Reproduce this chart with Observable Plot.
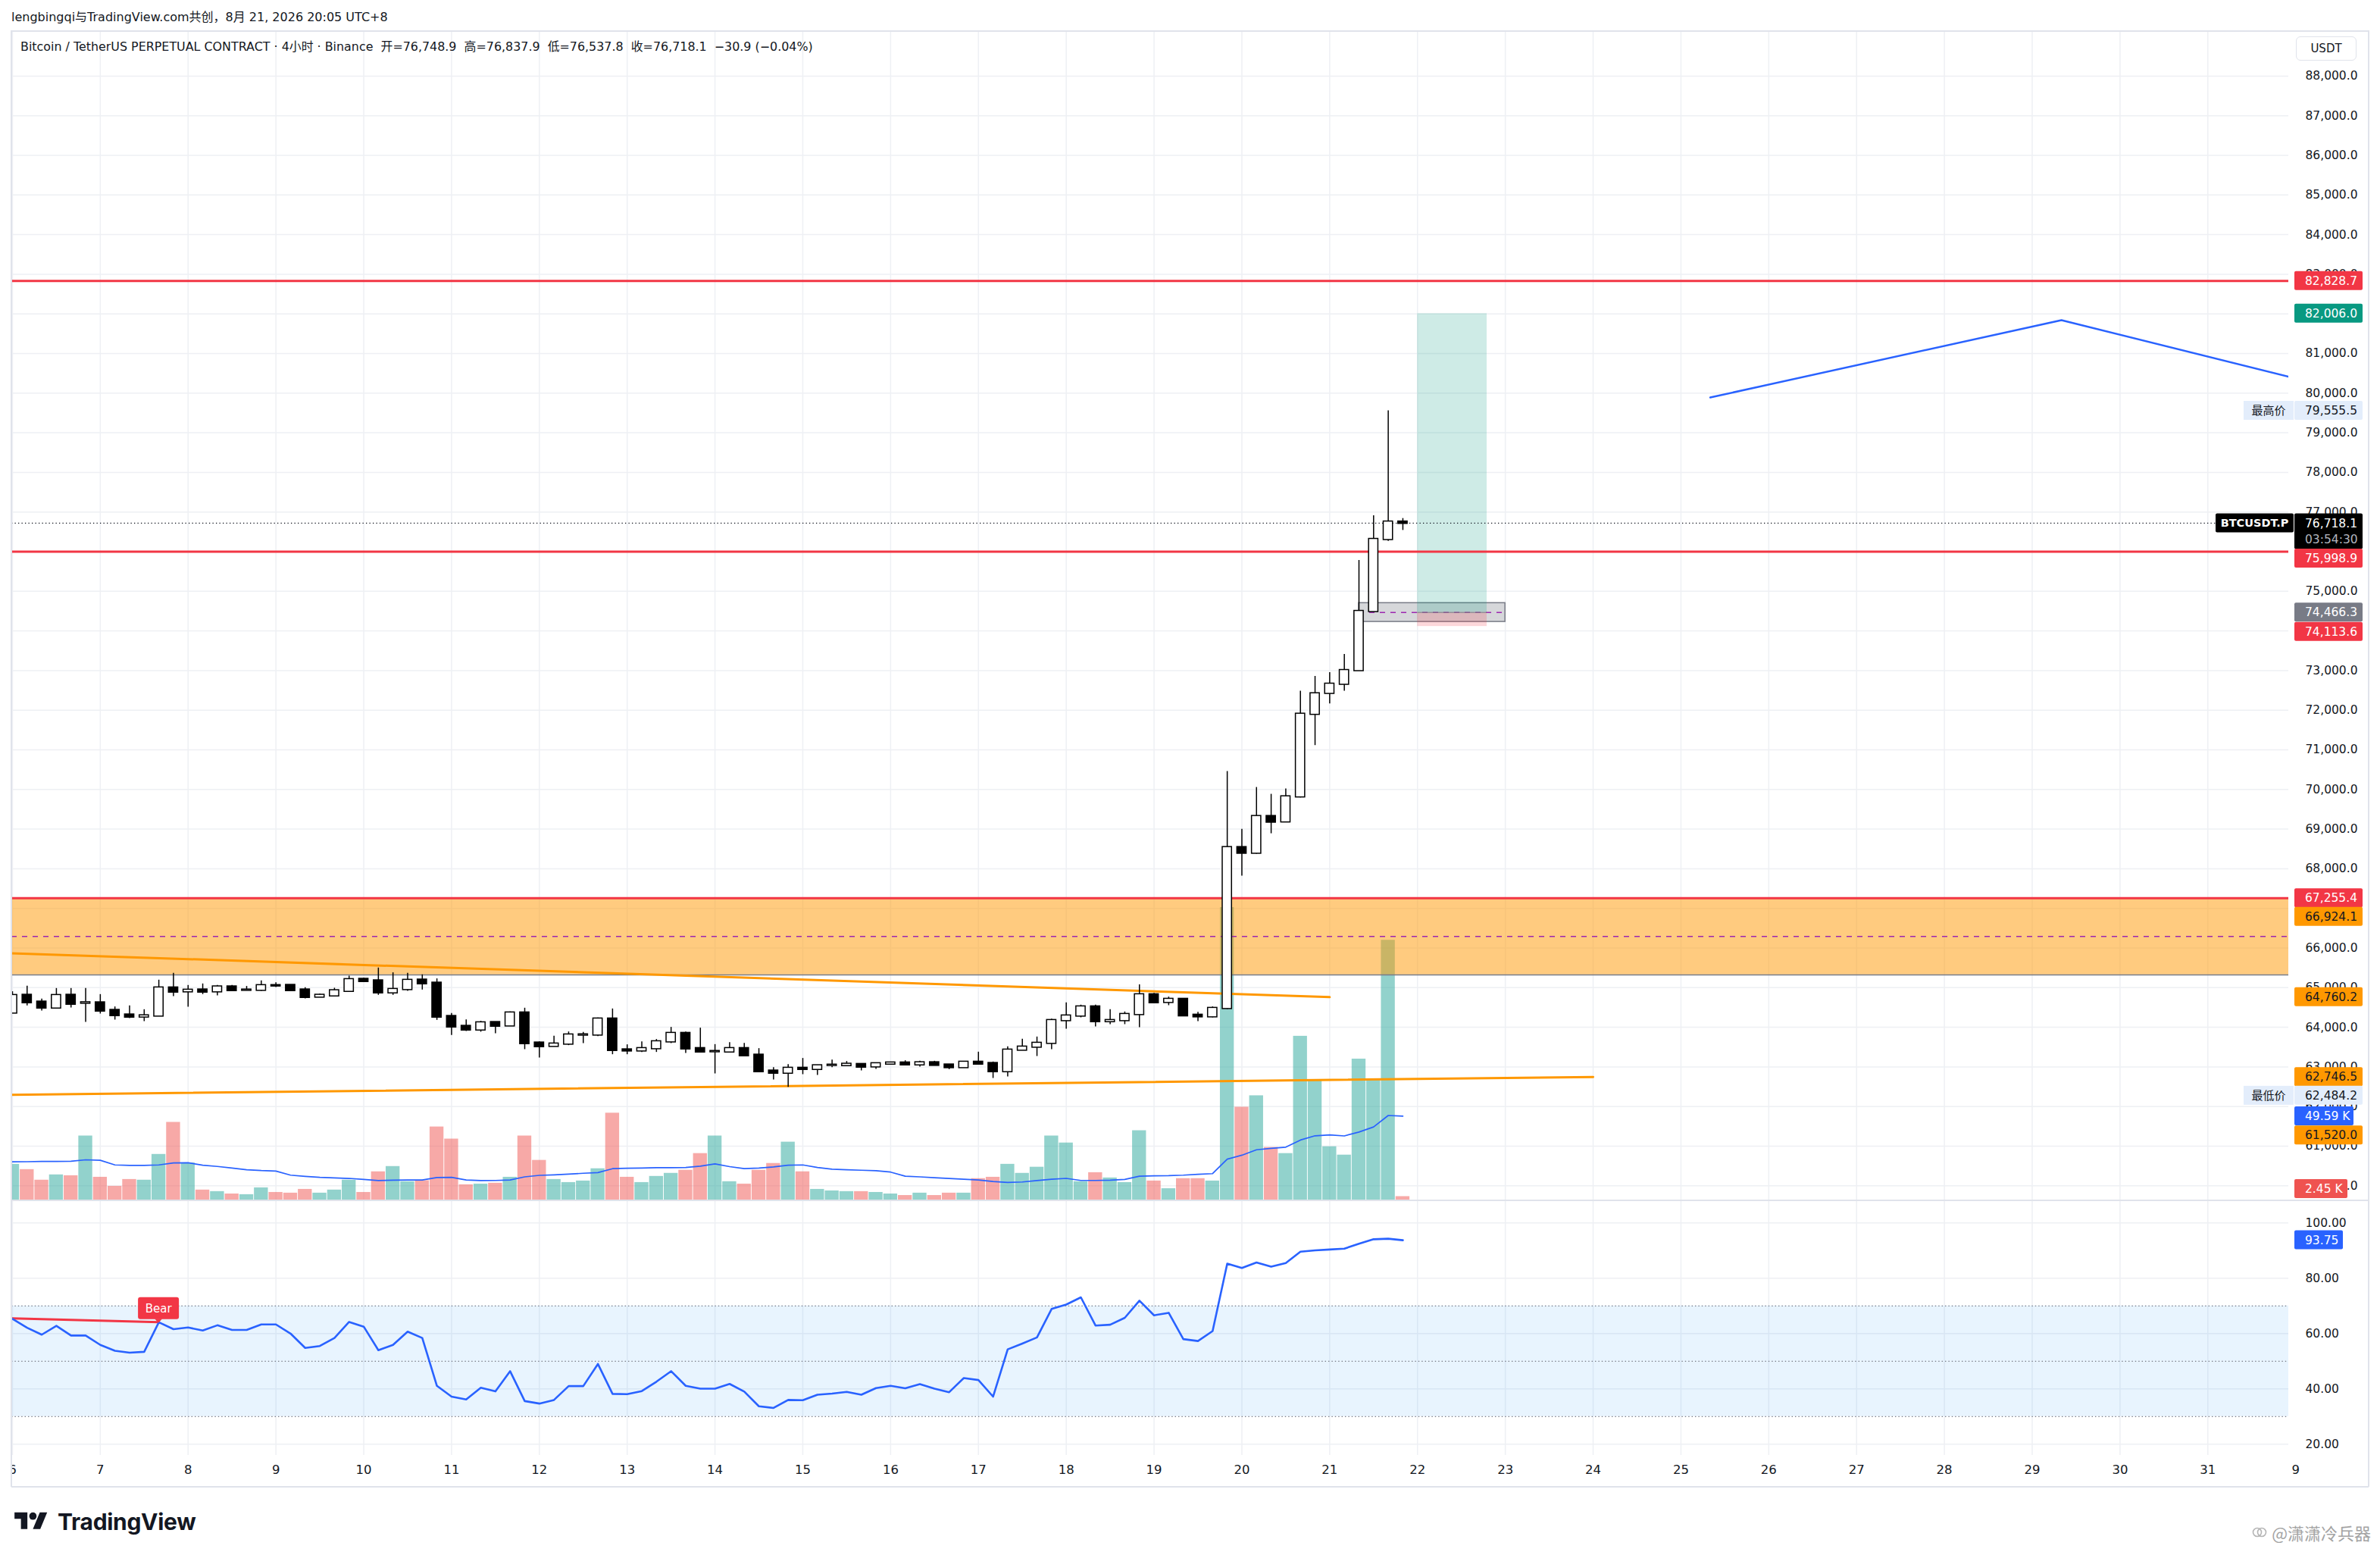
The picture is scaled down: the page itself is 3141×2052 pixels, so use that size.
<!DOCTYPE html>
<html><head><meta charset="utf-8">
<script src="https://cdn.jsdelivr.net/npm/d3@7"></script>
<script src="https://cdn.jsdelivr.net/npm/@observablehq/plot@0.6"></script>
<style>
html,body{margin:0;padding:0;background:#fff;}
#root{position:relative;width:3141px;height:2052px;overflow:hidden;background:#fff;font-family:"DejaVu Sans","Noto Sans CJK SC",sans-serif;color:#131722;}
.abs{position:absolute;}
.line{position:absolute;background:#e0e3eb;}
</style></head><body><div id="root"></div>
<script>
// ---------- DATA (4h candles, BTCUSDT.P, from 2026-08-06 00:00) ----------
const opens = [64362,64808,64636,64489,64808,64610,64617,64426,64311,64262,
64286,64993,64898,64942,64898,65019,64936,64936,65052,65057,
64942,64764,64795,64910,65210,65172,64872,64955,65191,65114,
64273,64024,63935,64120,64037,64362,63603,63521,63578,63805,
63807,64209,63431,63406,63463,63635,63846,63463,63386,63380,
63463,63297,62896,62845,62966,62940,63040,63036,63062,63004,
63074,63100,63055,63106,63049,62985,63119,63087,62883,63425,
63501,63597,64171,64286,64515,64145,64171,64324,64821,64630,
64706,64305,64267,64477,68535,68395,69319,69185,69816,71900,
72428,72658,73002,74493,76310,76748.9];
const highs = [64898,65038,64713,64980,64980,64980,64827,64515,64541,64445,
65191,65363,65057,65095,65057,65057,65032,65172,65127,65070,
65000,64840,64987,65293,65242,65497,65376,65363,65325,65223,
64349,64190,64152,64133,64388,64483,63635,63775,63884,63871,
64235,64464,63559,63635,63693,63999,63884,63980,63565,63616,
63597,63463,62985,63062,63215,63043,63176,63138,63068,63087,
63106,63157,63144,63144,63062,63125,63374,63125,63508,63699,
63756,64209,64617,64560,64560,64445,64388,65070,64859,64764,
64706,64381,64515,70453,68999,70052,69880,70013,72480,72855,
72951,73410,75780,76909,79555.5,76837.9];
const lows = [64350,64541,64413,64464,64489,64126,64337,64184,64222,64145,
64280,64776,64509,64827,64795,64929,64930,64910,65006,64929,
64719,64764,64783,64910,65159,64808,64808,64910,64942,64177,
63795,63897,63878,63839,64037,63438,63227,63521,63540,63591,
63769,63310,63310,63368,63368,63591,63342,63380,62826,63361,
63285,62883,62673,62484.2,62807,62788,62985,63017,62902,62940,
63049,63055,62998,63043,62934,62980,63074,62711,62749,63425,
63265,63438,63954,64241,64011,64069,64069,63992,64623,64547,
64273,64145,64241,64451,67815,68369,68885,69166,69790,71110,
72161,72480,73002,74493,76265,76537.8];
const closes = [64802,64623,64489,64802,64585,64620,64413,64298,64260,64290,
64993,64891,64936,64891,65019,64929,64940,65051,65046,64929,
64757,64808,64923,65203,65159,64872,64955,65185,65101,64260,
64011,63935,64113,64031,64362,63591,63514,63578,63807,63810,
64209,63419,63406,63463,63635,63846,63457,63380,63390,63463,
63285,62883,62845,62966,62940,63030,63045,63068,62998,63081,
63100,63055,63106,63043,62985,63119,63074,62883,63425,63501,
63597,64171,64286,64515,64145,64171,64324,64821,64623,64706,
64292,64267,64477,68535,68395,69319,69179,69816,71900,72416,
72658,73002,74493,76310,76749,76718.1];
// volume in thousands (K)
const volumes = [21.4,18.3,12.1,15.2,14.7,38.0,13.8,8.5,12.5,12.1,
27.2,46.0,22.2,6.3,5.4,4.0,3.6,7.6,4.9,4.5,
6.7,4.5,6.3,12.1,4.9,17.0,20.1,11.2,11.8,43.3,
36.2,9.4,9.8,10.3,13.8,38.0,23.7,12.5,10.7,11.6,
18.8,51.4,13.8,10.7,14.3,16.1,17.9,27.7,38.0,11.2,
9.8,17.9,21.9,34.4,17.0,6.7,5.8,5.4,5.4,4.9,
4.0,3.1,4.5,3.1,4.5,4.5,13.0,13.8,21.4,16.1,
19.7,38.0,33.9,11.2,16.5,13.4,10.7,41.1,11.6,7.1,
13.0,13.0,11.6,172.0,54.9,61.6,31.3,27.7,96.5,71.0,
31.7,26.8,83.1,70.6,152.8,2.45];
const volumeMA = [22.8,22.9,23.1,23.1,23.2,24.0,23.7,21.0,20.7,20.7,
21.0,22.2,22.3,20.8,20.1,19.2,18.2,17.7,17.4,15.0,
14.3,13.7,13.4,13.1,12.5,11.8,12.1,12.2,12.2,13.6,
13.7,12.2,11.8,11.9,12.2,14.0,14.9,15.2,15.6,16.1,
16.5,18.8,19.1,19.2,19.4,19.4,19.5,20.3,21.6,20.0,
18.8,19.2,19.8,20.8,21.0,19.5,18.5,18.2,17.9,17.6,
16.8,14.4,14.0,13.5,13.1,12.6,12.2,11.3,10.7,11.0,
11.8,12.6,13.1,11.9,11.9,12.1,12.5,14.4,14.6,14.7,
15.0,15.5,15.9,24.4,26.7,29.9,30.7,31.4,35.6,38.1,
38.6,38.0,40.3,43.3,50.0,49.59];
const rsiValues = [65.3,62.1,59.6,62.8,59.3,59.3,55.9,53.8,53.1,53.4,
64.1,61.6,62.2,61.1,63.0,61.3,61.3,63.3,63.3,60.0,
54.8,55.5,58.4,64.2,62.5,54.0,55.9,60.7,58.4,41.1,
37.2,36.2,40.4,39.1,46.4,35.6,34.7,36.0,41.0,41.0,
49.0,38.2,38.1,39.2,42.6,46.4,41.1,40.1,40.1,41.8,
39.0,33.7,33.1,36.0,35.9,37.9,38.3,38.9,37.9,40.3,
41.1,40.2,41.7,40.1,38.8,43.9,43.2,37.2,54.3,56.4,
58.6,68.9,70.5,73.1,62.9,63.2,65.7,71.9,66.6,67.5,
58.0,57.3,60.9,85.3,83.7,85.7,84.2,85.5,89.6,90.1,
90.4,90.7,92.5,94.1,94.3,93.75];

const xTickLabels = ["6","7","8","9","10","11","12","13","14","15","16","17","18","19","20","21","22","23","24","25","26","27","28","29","30","31","9"];
const priceTicks = [60000,61000,62000,63000,64000,65000,66000,67000,68000,69000,70000,71000,72000,73000,74000,75000,76000,77000,78000,79000,80000,81000,82000,83000,84000,85000,86000,87000,88000];
const rsiTicks = [100,80,60,40,20];
const rsiBandLevels = [70,50,30];

// drawings
const redLevels = [82828.7, 75998.9, 67255.4];
const zone = {low: 65323, high: 67255.4, mid: 66289};
const longTool = {start: Date.UTC(2026,7,22,0), end: Date.UTC(2026,7,22,19), entry: 74466.3, target: 82006.0, stop: 74113.6};
const greyBox = {start: Date.UTC(2026,7,21,8), end: Date.UTC(2026,7,23,0), low: 74229, high: 74703, mid: 74466.3};
const upperTrend = [{t: Date.UTC(2026,6,22,16), p: 66924.1}, {t: Date.UTC(2026,7,21,0), p: 64760.2}];
const lowerTrend = [{t: Date.UTC(2026,6,6,0), p: 61520.0}, {t: Date.UTC(2026,7,24,0), p: 62746.5}];
const forecast = [{t: Date.UTC(2026,7,25,8), p: 79891}, {t: Date.UTC(2026,7,29,8), p: 81841}, {t: Date.UTC(2026,8,1,0), p: 80370}];
const lastPrice = 76718.1;
const bearLine = [{i: 0, v: 65.5}, {i: 10, v: 64.1}];
const bearAt = {i: 10, v: 64.8};

const priceLabelValues = [82828.7, 82006.0, 79555.5, 76718.1, 75998.9, 74466.3, 74113.6, 67255.4, 66924.1, 64760.2, 62746.5, 62484.2, 61520.0];
const priceLabelKinds  = ["red","green","high","last","red","gray","red","red","orange","orange","orange","low","orange"];
const volumeLabelValues = [49.59, 2.45];
const rsiLastValue = 93.75;

const headerLine1 = "lengbingqi与TradingView.com共创，8月 21, 2026 20:05 UTC+8";
const headerLine2 = "Bitcoin / TetherUS PERPETUAL CONTRACT · 4小时 · Binance  开=76,748.9  高=76,837.9  低=76,537.8  收=76,718.1  −30.9 (−0.04%)";
const countdown = "03:54:30";
const symbolTag = "BTCUSDT.P";

// ---------- BUILD ----------
const T0 = Date.UTC(2026, 7, 6);
const HOUR = 3600e3;
const at = h => new Date(T0 + h * HOUR);
const candles = opens.map((o, i) => ({
  t: at(4 * i), open: o, high: highs[i], low: lows[i], close: closes[i],
  vol: volumes[i], ma: volumeMA[i], rsi: rsiValues[i], up: closes[i] >= o
}));
const dayDates = xTickLabels.map((_, k) => at(24 * k));
const labelByTime = new Map(dayDates.map((d, k) => [+d, xTickLabels[k]]));

const SVG_LEFT = 15, SVG_W = 3126, MR = 121, PRICE_TOP = 41, PRICE_H = 1584;
const xDomain = [at(-0.2), at(622.1)];
const gridDays = dayDates.filter(d => d <= xDomain[1]);
const priceDomain = [59623, 89126];
const volDomain = [0, 685.8];
const rsiDomain = [15.97, 108.03];
const GRID = "#eef0f4";
const FONT = "DejaVu Sans, Noto Sans CJK SC, sans-serif";
const BODY = 1.27 * HOUR, VOLW = 1.9 * HOUR;
const common = {
  width: SVG_W, height: PRICE_H, marginTop: PRICE_TOP, marginBottom: 0, marginLeft: 0, marginRight: MR,
  x: {type: "utc", domain: xDomain, axis: null},
  style: {background: "transparent", overflow: "hidden"}
};
const D = v => new Date(v);

const root = document.getElementById("root");
function place(el, left, top) {
  const w = document.createElement("div");
  w.className = "abs"; w.style.left = left + "px"; w.style.top = top + "px";
  w.appendChild(el); root.appendChild(w); return w;
}

// Layer A: grid + price axis
const gridPlot = Plot.plot({...common,
  y: {domain: priceDomain, axis: null},
  marks: [
    Plot.ruleX(gridDays, {stroke: GRID, strokeWidth: 1.5}),
    Plot.ruleY(priceTicks, {stroke: GRID, strokeWidth: 1.5}),
    Plot.axisY(priceTicks, {anchor: "right", tickSize: 0, tickPadding: 22, textAnchor: "start",
      tickFormat: d3.format(",.1f"), fontSize: 15.5, fontFamily: FONT, fill: "#131722", label: null})
  ]});
place(gridPlot, SVG_LEFT, 0);

// Layer B: volume
const volPlot = Plot.plot({...common,
  y: {domain: volDomain, axis: null},
  color: {type: "identity"},
  marks: [
    Plot.rect(candles, {x1: d => D(+d.t - VOLW), x2: d => D(+d.t + VOLW), y1: 0, y2: "vol",
      fill: d => d.up ? "#26a69a" : "#ef5350", fillOpacity: 0.5}),
    Plot.line(candles, {x: "t", y: "ma", stroke: "#2962ff", strokeWidth: 1.7})
  ]});
place(volPlot, SVG_LEFT, 0);

// Layer C: drawings + candles
const pricePlot = Plot.plot({...common,
  y: {domain: priceDomain, axis: null},
  color: {type: "identity"},
  marks: [
    Plot.rect([zone], {y1: "low", y2: "high", fill: "#ff9800", fillOpacity: 0.5}),
    Plot.ruleY([zone.low], {stroke: "#787b86", strokeWidth: 1.5}),
    Plot.ruleY([zone.mid], {stroke: "#9c27b0", strokeWidth: 1.5, strokeDasharray: "7,7"}),
    Plot.rect([greyBox], {x1: d => D(d.start), x2: d => D(d.end), y1: "low", y2: "high",
      fill: "#787b86", fillOpacity: 0.3, stroke: "#787b86", strokeWidth: 1.5}),
    Plot.ruleY([greyBox], {y: "mid", x1: d => D(d.start), x2: d => D(d.end), stroke: "#9c27b0", strokeWidth: 1.5, strokeDasharray: "7,7"}),
    Plot.rect([longTool], {x1: d => D(d.start), x2: d => D(d.end), y1: "entry", y2: "target", fill: "#089981", fillOpacity: 0.2}),
    Plot.rect([longTool], {x1: d => D(d.start), x2: d => D(d.end), y1: "stop", y2: "entry", fill: "#f23645", fillOpacity: 0.2}),
    Plot.ruleY([longTool], {y: "entry", x1: d => D(d.start), x2: d => D(d.end), stroke: "#787b86", strokeWidth: 1}),
    Plot.ruleY(redLevels, {stroke: "#f23645", strokeWidth: 3}),
    Plot.line(upperTrend, {x: d => D(d.t), y: "p", stroke: "#ff9800", strokeWidth: 3, clip: true}),
    Plot.line(lowerTrend, {x: d => D(d.t), y: "p", stroke: "#ff9800", strokeWidth: 3, clip: true}),
    Plot.line(forecast, {x: d => D(d.t), y: "p", stroke: "#2962ff", strokeWidth: 2.5, clip: true}),
    Plot.ruleY([lastPrice], {stroke: "#131722", strokeWidth: 1.3, strokeDasharray: "1.3,3.2"}),
    Plot.ruleX(candles, {x: "t", y1: "low", y2: "high", stroke: "#000", strokeWidth: 1.5}),
    Plot.rect(candles, {x1: d => D(+d.t - BODY), x2: d => D(+d.t + BODY), y1: "open", y2: "close",
      fill: d => d.up ? "#ffffff" : "#000000", stroke: "#000", strokeWidth: 1.5, insetTop: -0.75, insetBottom: -0.75})
  ]});
place(pricePlot, SVG_LEFT, 0);

// axis labels with coloured boxes, positioned with the plots' own scales
const PR = SVG_W - MR; // plot right edge within svg
function boxLabel(svg, o) {
  const h = o.h || 25;
  const g = d3.select(svg).append("g").attr("font-family", FONT).attr("font-size", o.size || 15.5);
  g.append("rect").attr("x", o.x).attr("y", o.y - h / 2).attr("width", o.w).attr("height", h)
    .attr("rx", o.rx == null ? 2 : o.rx).attr("fill", o.bg);
  g.append("text").attr("x", o.anchor === "middle" ? o.x + o.w / 2 : o.x + 14).attr("y", o.y).attr("dy", "0.36em")
    .attr("text-anchor", o.anchor || "start").attr("fill", o.fg).attr("font-weight", o.weight || null).text(o.text);
  return g;
}
const yP = pricePlot.scale("y");
const fmtP = d3.format(",.1f");
const push = {75998.9: 9, 74113.6: 7, 66924.1: 7, 62484.2: 11, 61520: 13};
const kindStyle = {
  red: {bg: "#f23645", fg: "#ffffff"}, green: {bg: "#089981", fg: "#ffffff"},
  gray: {bg: "#787b86", fg: "#ffffff"}, orange: {bg: "#ff9800", fg: "#131722"},
  high: {bg: "#e3edfb", fg: "#131722"}, low: {bg: "#e3edfb", fg: "#131722"}, last: {bg: "#000000", fg: "#ffffff"}
};
priceLabelValues.forEach((v, k) => {
  const kind = priceLabelKinds[k], st = kindStyle[kind];
  const y = yP.apply(v) + (push[v] || 0);
  if (kind === "last") {
    boxLabel(pricePlot, {x: PR - 96, y, w: 103, bg: "#000", fg: "#fff", text: symbolTag, anchor: "middle", weight: "bold", size: 14.5});
    const g = d3.select(pricePlot).append("g").attr("font-family", FONT).attr("font-size", 15.5).attr("text-anchor", "start");
    g.append("rect").attr("x", PR + 8).attr("y", y - 12.5).attr("width", 90).attr("height", 47).attr("rx", 2).attr("fill", "#000");
    g.append("text").attr("x", PR + 22).attr("y", y).attr("dy", "0.36em").attr("text-anchor", "start").attr("fill", "#fff").text(fmtP(v));
    g.append("text").attr("x", PR + 22).attr("y", y + 21).attr("dy", "0.36em").attr("text-anchor", "start").attr("fill", "#b2b5be").text(countdown);
  } else {
    if (kind === "high" || kind === "low")
      boxLabel(pricePlot, {x: PR - 59, y, w: 66, bg: st.bg, fg: "#131722", text: kind === "high" ? "最高价" : "最低价", anchor: "middle", rx: 0, size: 15});
    boxLabel(pricePlot, {x: PR + 8, y, w: 90, bg: st.bg, fg: st.fg, text: fmtP(v)});
  }
});
const yV = volPlot.scale("y");
boxLabel(volPlot, {x: PR + 8, y: yV.apply(volumeLabelValues[0]), w: 78, bg: "#2962ff", fg: "#fff", text: volumeLabelValues[0].toFixed(2) + " K"});
boxLabel(volPlot, {x: PR + 8, y: yV.apply(volumeLabelValues[1]) - 10, w: 70, bg: "#ef5350", fg: "#fff", text: volumeLabelValues[1].toFixed(2) + " K"});

// RSI pane
const rsiPlot = Plot.plot({
  width: SVG_W, height: 378, marginTop: 0, marginBottom: 42, marginLeft: 0, marginRight: MR,
  x: {type: "utc", domain: xDomain, axis: null},
  y: {domain: rsiDomain, axis: null},
  style: {background: "transparent", overflow: "hidden"},
  marks: [
    Plot.ruleX(gridDays, {stroke: GRID, strokeWidth: 1.5}),
    Plot.ruleY(rsiTicks, {stroke: GRID, strokeWidth: 1.5}),
    Plot.rect([{low: 30, high: 70}], {y1: "low", y2: "high", fill: "#2196f3", fillOpacity: 0.1}),
    Plot.ruleY(rsiBandLevels, {stroke: "#787b86", strokeWidth: 1.2, strokeDasharray: "1.4,3"}),
    Plot.line(bearLine, {x: d => at(4 * d.i), y: "v", stroke: "#f23645", strokeWidth: 3}),
    Plot.line(candles, {x: "t", y: "rsi", stroke: "#2962ff", strokeWidth: 2.6}),
    Plot.axisY(rsiTicks, {anchor: "right", tickSize: 0, tickPadding: 22, textAnchor: "start",
      tickFormat: d3.format(".2f"), fontSize: 15.5, fontFamily: FONT, fill: "#131722", label: null}),
    Plot.axisX(dayDates, {anchor: "bottom", tickSize: 0, tickPadding: 13, tickFormat: d => labelByTime.get(+d),
      fontSize: 16.5, fontFamily: FONT, fill: "#131722", label: null})
  ]});
place(rsiPlot, SVG_LEFT, 1584);
const xR = rsiPlot.scale("x"), yR = rsiPlot.scale("y");
{
  const bx = xR.apply(at(4 * bearAt.i)), by = yR.apply(bearAt.v);
  const g = d3.select(rsiPlot).append("g").attr("font-family", FONT);
  g.append("rect").attr("x", bx - 27).attr("y", by - 30).attr("width", 54).attr("height", 29).attr("rx", 3).attr("fill", "#f23645");
  g.append("path").attr("d", `M${bx - 5},${by - 1.5}L${bx},${by + 4}L${bx + 5},${by - 1.5}Z`).attr("fill", "#f23645");
  g.append("text").attr("x", bx).attr("y", by - 15.5).attr("dy", "0.36em").attr("text-anchor", "middle")
    .attr("fill", "#fff").attr("font-size", 15).text("Bear");
}
boxLabel(rsiPlot, {x: PR + 8, y: yR.apply(rsiLastValue), w: 64, bg: "#2962ff", fg: "#fff", text: rsiLastValue.toFixed(2)});

// ---------- frame, header, footer ----------
function line(l, t, w, h) { const d = document.createElement("div"); d.className = "line";
  Object.assign(d.style, {left: l + "px", top: t + "px", width: w + "px", height: h + "px"}); root.appendChild(d); }
line(15, 40, 3111, 1.5);
line(15, 1583, 3111, 2);
line(15, 1961, 3111, 1.5);
line(14, 40, 1.5, 1922);
line(3125, 40, 1.5, 1922);

function text(str, css) { const d = document.createElement("div"); d.className = "abs"; d.textContent = str;
  Object.assign(d.style, {whiteSpace: "pre"}, css); root.appendChild(d); return d; }
text(headerLine1, {left: "15px", top: "12px", fontSize: "16px", lineHeight: "22px"});
text(headerLine2, {left: "27px", top: "51px", fontSize: "15.9px", lineHeight: "22px"});
text("USDT", {left: "3030px", top: "48px", width: "78px", height: "30px", lineHeight: "30px", textAlign: "center",
  fontSize: "15px", border: "1.5px solid #e0e3eb", borderRadius: "6px", background: "#fff"});

const logo = document.createElement("div"); logo.className = "abs";
Object.assign(logo.style, {left: "18px", top: "1990px", display: "flex", alignItems: "center", gap: "12px"});
logo.innerHTML = '<svg width="46" height="34" viewBox="0 0 36 28"><path d="M14 22H7V11H0V4h14v18zM28 22h-8l7.5-18h8L28 22z" fill="#131722"/><circle cx="20" cy="8" r="4" fill="#131722"/></svg>' +
  '<span style="font-family:Inter,Roboto,sans-serif;font-weight:700;font-size:30px;letter-spacing:-0.3px;color:#131722">TradingView</span>';
root.appendChild(logo);
const wm = document.createElement("div"); wm.className = "abs";
Object.assign(wm.style, {right: "12px", top: "2008px", display: "flex", alignItems: "center", gap: "6px", color: "#a3a3a3",
  fontSize: "22px", lineHeight: "28px", fontFamily: "Noto Sans CJK SC, sans-serif"});
wm.innerHTML = '<svg width="20" height="20" viewBox="0 0 20 20"><circle cx="7" cy="10" r="5.5" fill="none" stroke="#b5b5b5" stroke-width="1.6"/><circle cx="13" cy="10" r="5.5" fill="none" stroke="#b5b5b5" stroke-width="1.6"/></svg><span>@潇潇冷兵器</span>';
root.appendChild(wm);
</script>
</body></html>
